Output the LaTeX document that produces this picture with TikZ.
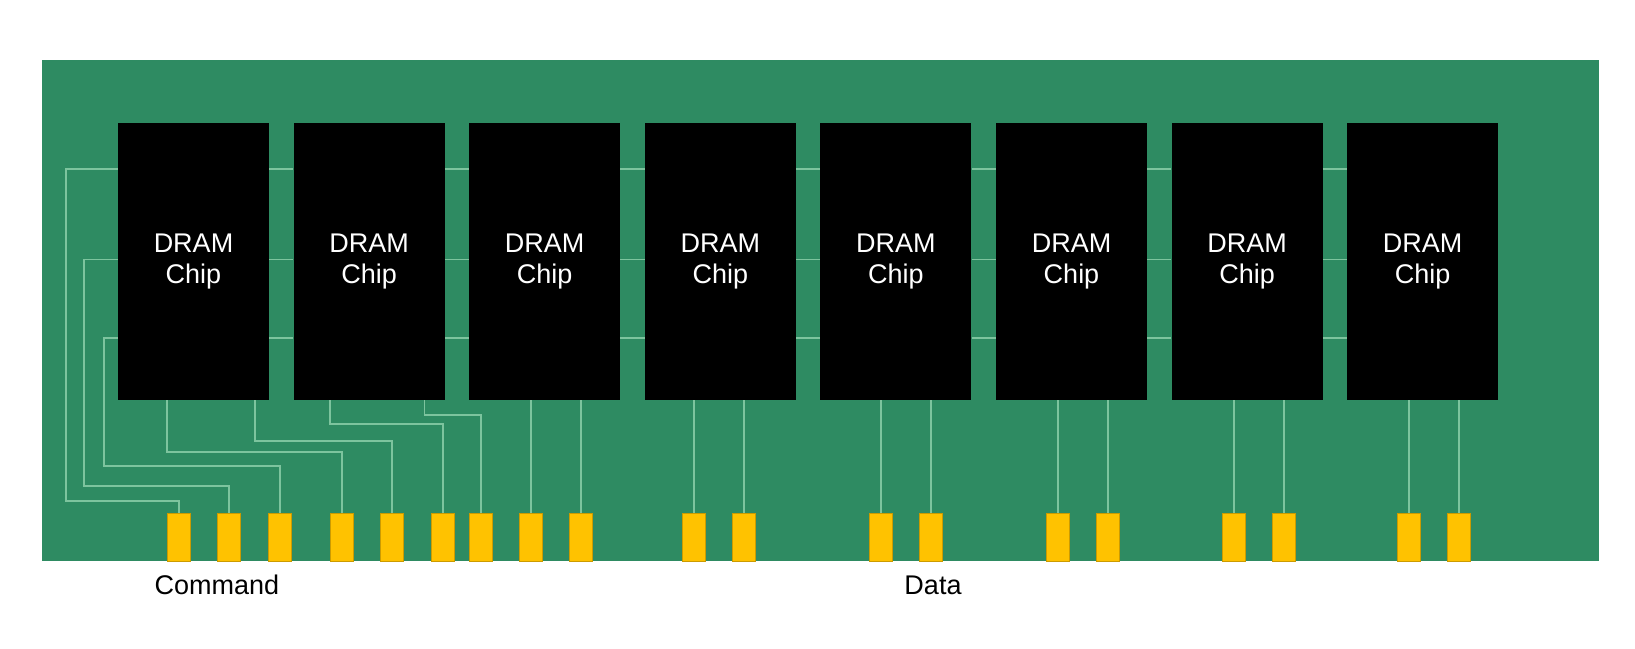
\documentclass[tikz,border=0pt]{standalone}
\usepackage{fontspec}
\setmainfont{Liberation Sans}
\usetikzlibrary{positioning}
\definecolor{board}{RGB}{46,139,98}
\definecolor{tracec}{RGB}{125,196,158}
\definecolor{padc}{RGB}{255,194,0}
\tikzset{
  chip/.style={fill=black,minimum width=151pt,minimum height=277pt,inner sep=0pt,
    text=white,align=center,font=\fontsize{27}{31}\selectfont},
  pad/.style={fill=padc,draw=padc!80!black,line width=0.8pt,minimum width=23pt,minimum height=48pt,inner sep=0pt,anchor=north},
  trace/.style={draw=tracec,line width=1.6pt},
  lbl/.style={font=\fontsize{27}{31}\selectfont}
}
\begin{document}
\begin{tikzpicture}[x=1pt,y=-1pt]
\useasboundingbox (0,0) rectangle (1635,648);
\fill[board] (42,60) rectangle (1599,561);
% chips
\foreach \i in {1,...,8}
  \node[chip] (c\i) at ({193.5+175.6*(\i-1)},261.5) {DRAM\\Chip};
% traces between chips
\foreach \i [evaluate=\i as \j using int(\i+1)] in {1,...,7}
  \foreach \y in {169,259.5,338}
    \draw[trace] (c\i.east |- 0,\y) -- (c\j.west |- 0,\y);
% pads
\foreach \x [count=\k] in {179,229,280,342,392,443,481,531,581,694,744,881,931,1058,1108,1234,1284,1409,1459}
  \node[pad] (p\k) at (\x,513) {};
% command traces
\draw[trace] (c1.west |- 0,169) -| (66,501) -| (p1.north);
\draw[trace] (c1.west |- 0,259.5) -| (84,486) -| (p2.north);
\draw[trace] (c1.west |- 0,338) -| (104,466) -| (p3.north);
% data traces
\draw[trace] ([xshift=-26.5pt]c1.south) |- (p4.north |- 0,452) -- (p4.north);
\draw[trace] ([xshift=61.5pt]c1.south) |- (p5.north |- 0,441) -- (p5.north);
\draw[trace] ([xshift=-39pt]c2.south) |- (p6.north |- 0,424) -- (p6.north);
\draw[trace] ([xshift=55.5pt]c2.south) |- (p7.north |- 0,415) -- (p7.north);
\draw[trace] (c3.south -| p8) -- (p8.north);
\draw[trace] (c3.south -| p9) -- (p9.north);
\foreach \i/\a/\b in {4/10/11,5/12/13,6/14/15,7/16/17,8/18/19}{
  \draw[trace] (c\i.south -| p\a) -- (p\a.north);
  \draw[trace] (c\i.south -| p\b) -- (p\b.north);
}
% labels
\node[lbl] (cmd) at (217,585) {Command};
\node[lbl] (dat) at (933,585) {Data};
\end{tikzpicture}
\end{document}
